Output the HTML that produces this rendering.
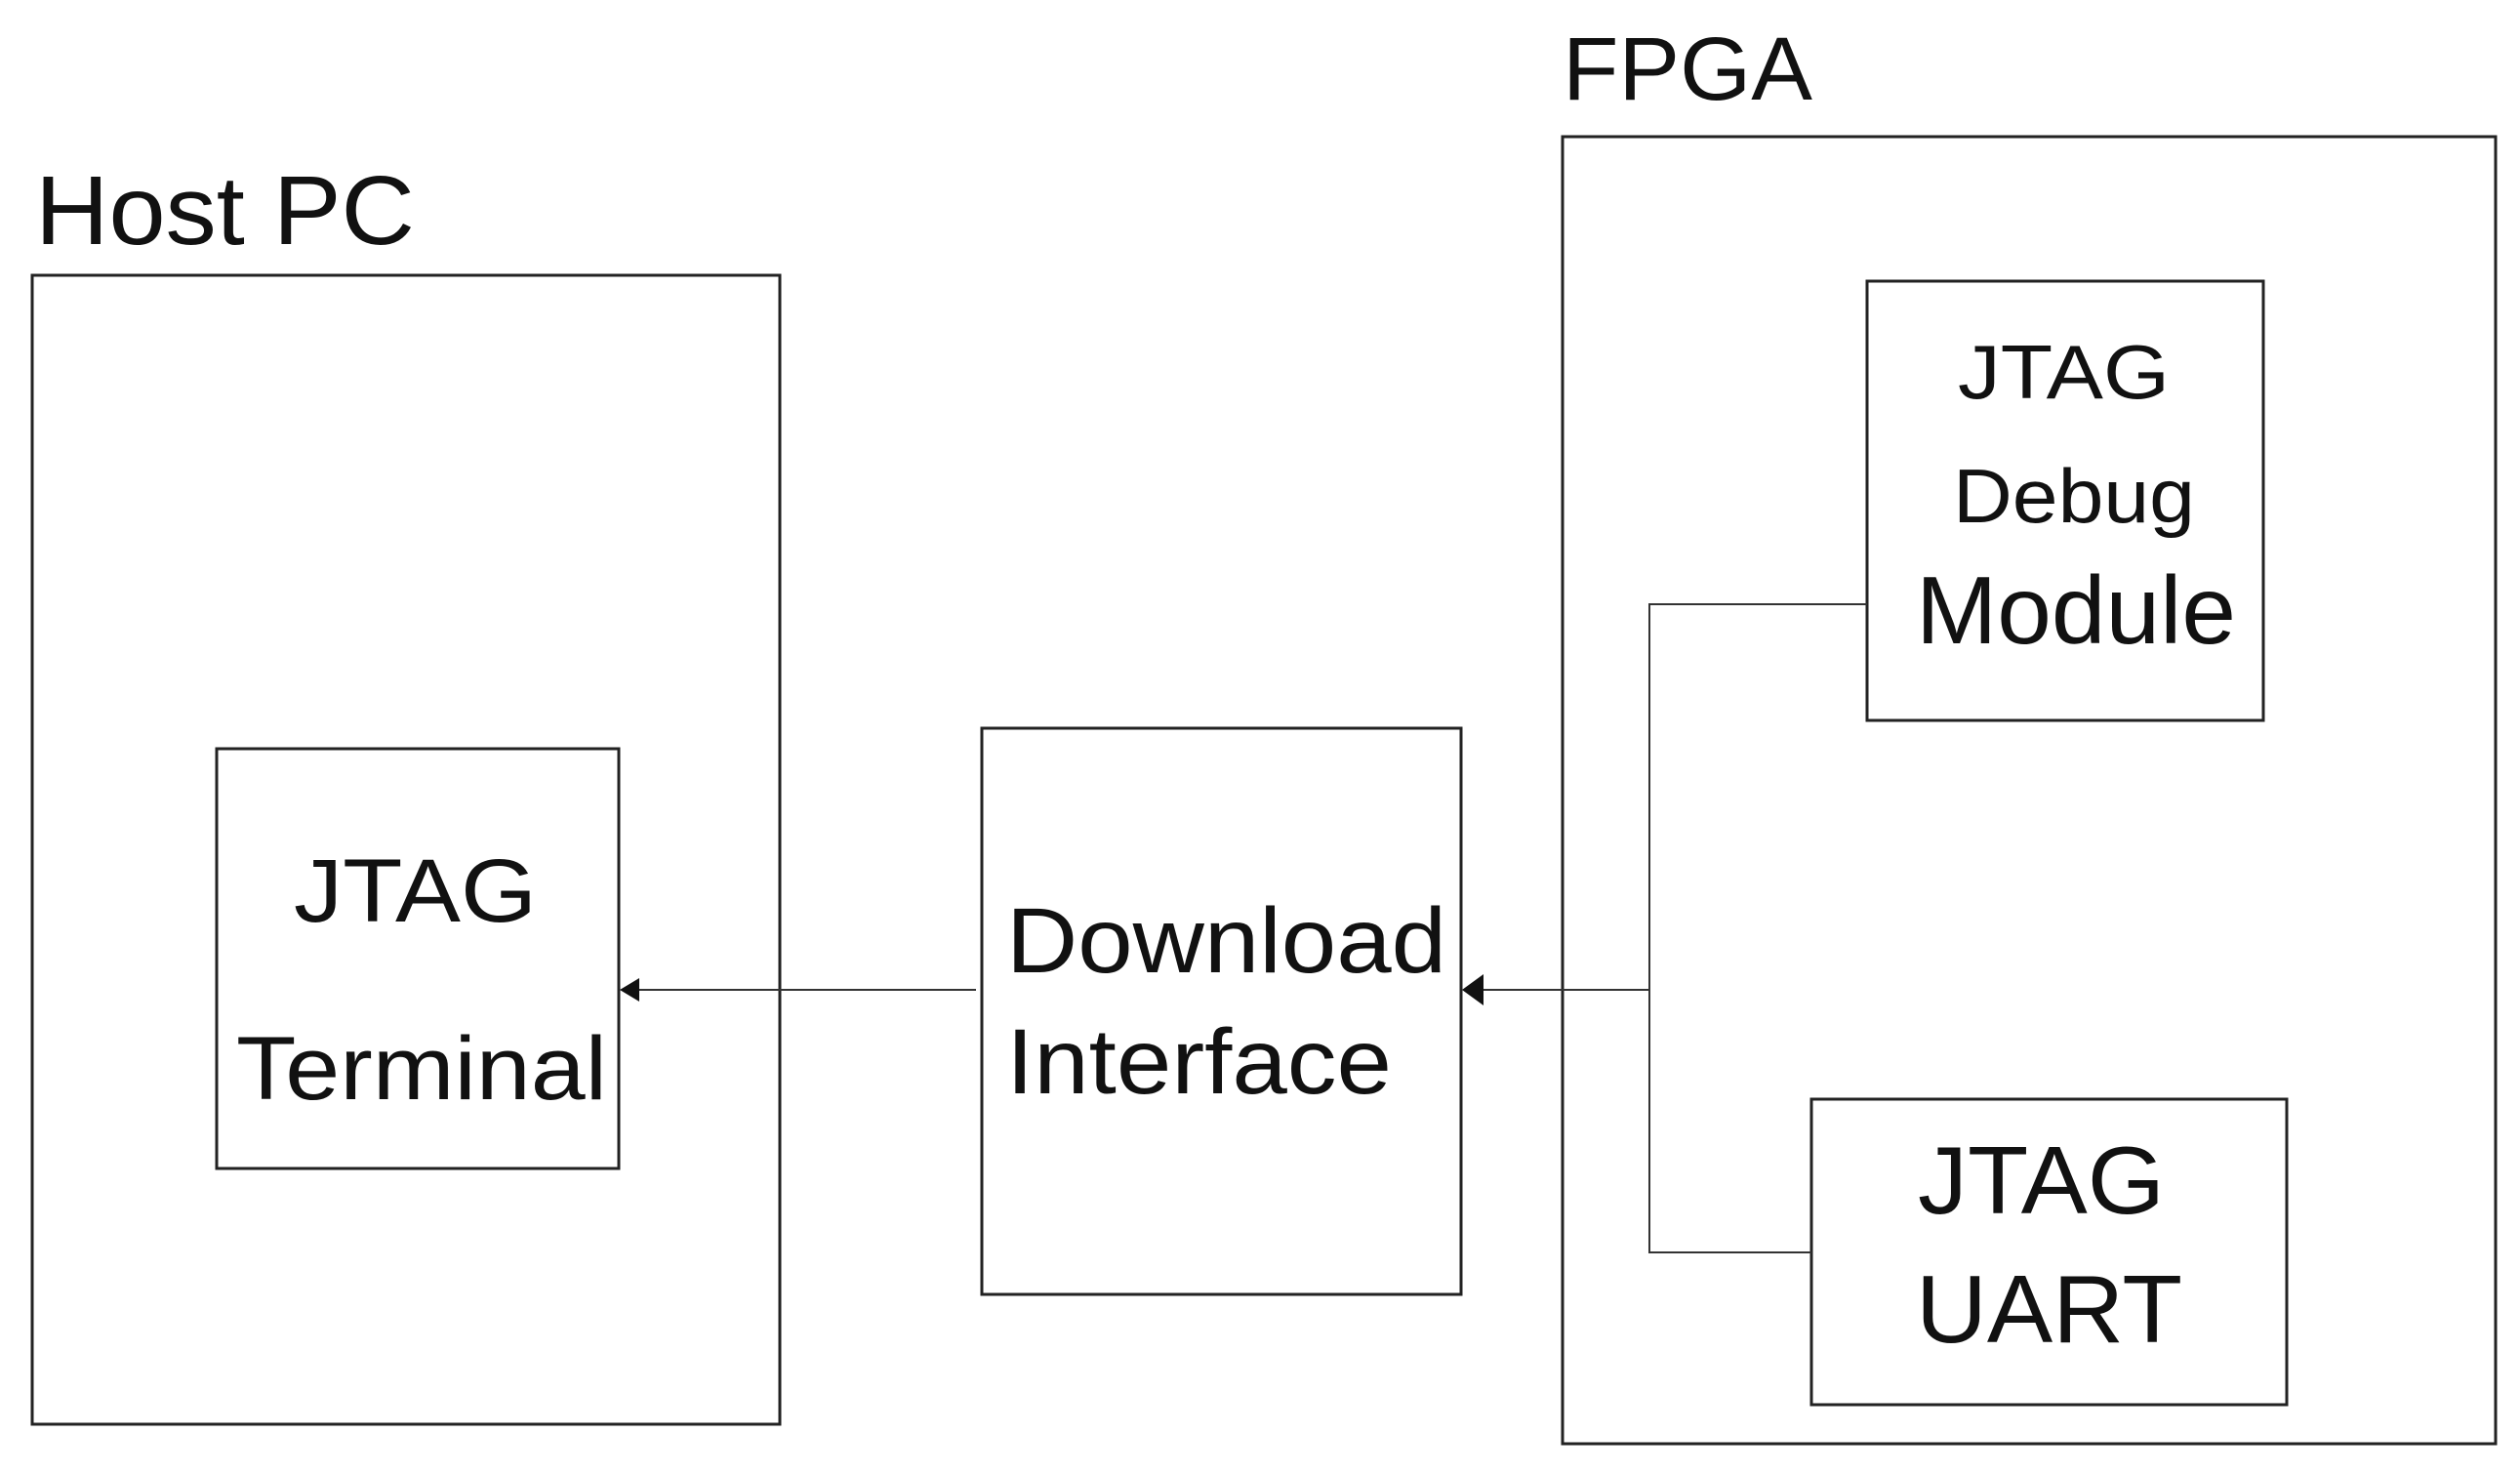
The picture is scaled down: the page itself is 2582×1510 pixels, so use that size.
<!DOCTYPE html>
<html><head><meta charset="utf-8"><style>html,body{margin:0;padding:0;background:#fff}svg{display:block}</style></head>
<body>
<svg width="2582" height="1510" viewBox="0 0 2582 1510" xmlns="http://www.w3.org/2000/svg" font-family="Liberation Sans, sans-serif" fill="#111">
<g fill="none" stroke="#222" stroke-width="3">
<rect x="33" y="282" width="766" height="1177"/>
<rect x="1601" y="140" width="956" height="1339"/>
<rect x="222" y="767" width="412" height="430"/>
<rect x="1006" y="746" width="491" height="580"/>
<rect x="1913" y="288" width="406" height="450"/>
<rect x="1856" y="1126" width="487" height="313"/>
</g>
<g fill="none" stroke="#333" stroke-width="2">
<polyline points="1913,619 1690,619 1690,1283 1856,1283"/>
<line x1="1690" y1="1014" x2="1515" y2="1014"/>
<line x1="1000" y1="1014" x2="650" y2="1014"/>
</g>
<polygon points="1498,1014 1520,998 1520,1030" fill="#111"/>
<polygon points="635,1014 655,1002 655,1026" fill="#111"/>
<g lengthAdjust="spacingAndGlyphs">
<text x="36" y="250" font-size="100" textLength="389" lengthAdjust="spacingAndGlyphs">Host PC</text>
<text x="1601" y="102" font-size="92" textLength="256" lengthAdjust="spacingAndGlyphs">FPGA</text>
<text x="301" y="944" font-size="92" textLength="249" lengthAdjust="spacingAndGlyphs">JTAG</text>
<text x="242" y="1126" font-size="92" textLength="380" lengthAdjust="spacingAndGlyphs">Terminal</text>
<text x="2006" y="408" font-size="78" textLength="217" lengthAdjust="spacingAndGlyphs">JTAG</text>
<text x="2001" y="535" font-size="78" textLength="248" lengthAdjust="spacingAndGlyphs">Debug</text>
<text x="1963" y="659" font-size="98" textLength="328" lengthAdjust="spacingAndGlyphs">Module</text>
<text x="1965" y="1243" font-size="98" textLength="253" lengthAdjust="spacingAndGlyphs">JTAG</text>
<text x="1963" y="1375" font-size="98" textLength="273" lengthAdjust="spacingAndGlyphs">UART</text>
<text x="1031" y="996" font-size="95" textLength="451" lengthAdjust="spacingAndGlyphs">Download</text>
<text x="1031" y="1120" font-size="95" textLength="395" lengthAdjust="spacingAndGlyphs">Interface</text>
</g>
</svg>
</body></html>
